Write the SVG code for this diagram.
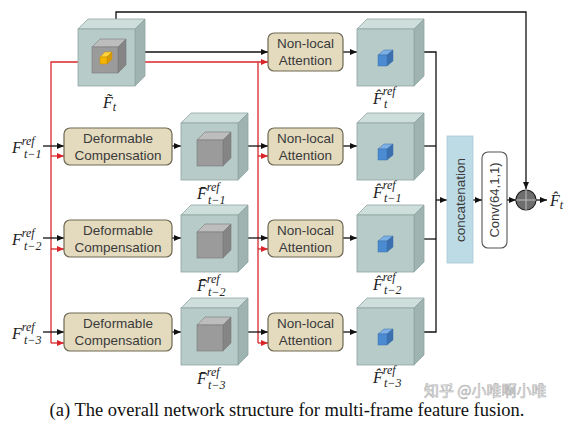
<svg xmlns="http://www.w3.org/2000/svg" width="578" height="423" viewBox="0 0 578 423">
<defs>
<style>
.ln{fill:none;stroke:#111;stroke-width:1.3}
.rd{fill:none;stroke:#d9262b;stroke-width:1.3}
.box{fill:#e4dbbf;stroke:#6e6853;stroke-width:1.2}
.bt{font-family:"Liberation Sans",Arial,sans-serif;font-size:13.5px;fill:#3a3a3a;text-anchor:middle}
.m{font-family:"Liberation Serif","Times New Roman",serif;font-style:italic;font-size:16px;fill:#222}
.s{font-size:12px}
.cf{fill:#b7ccc9;stroke:#8fa5a2;stroke-width:0.8}
.ct{fill:#cddedb;stroke:#8fa5a2;stroke-width:0.8}
.cr{fill:#9fb4b1;stroke:#8fa5a2;stroke-width:0.8}
.gf{fill:#9b9b9b;stroke:#7a7a7a;stroke-width:0.6}
.gt{fill:#bdbdbd;stroke:#7a7a7a;stroke-width:0.6}
.gr{fill:#858585;stroke:#7a7a7a;stroke-width:0.6}
</style>
<marker id="ab" markerWidth="8" markerHeight="6" refX="7" refY="3" orient="auto" markerUnits="userSpaceOnUse"><path d="M0,0 L7,3 L0,6 z" fill="#111"/></marker>
<marker id="ar" markerWidth="8" markerHeight="6" refX="7" refY="3" orient="auto" markerUnits="userSpaceOnUse"><path d="M0,0 L7,3 L0,6 z" fill="#d9262b"/></marker>
<g id="bigcube">
<polygon class="ct" points="0,0 10,-10 67,-10 57,0"/>
<polygon class="cr" points="57,0 67,-10 67,47 57,57"/>
<rect class="cf" x="0" y="0" width="57" height="57"/>
</g>
<g id="graycube">
<polygon class="gt" points="0,0 8,-8 34,-8 26,0"/>
<polygon class="gr" points="26,0 34,-8 34,18 26,26"/>
<rect class="gf" x="0" y="0" width="26" height="26"/>
</g>
<g id="bluecube">
<polygon points="0,0 6,-5 15,-5 9,0" fill="#7db1e6" stroke="#3d6fa8" stroke-width="0.5"/>
<polygon points="9,0 15,-5 15,6 9,11" fill="#3a6fb0" stroke="#3d6fa8" stroke-width="0.5"/>
<rect x="0" y="0" width="9" height="11" fill="#4a8bd2" stroke="#3d6fa8" stroke-width="0.5"/>
</g>
</defs>
<rect width="578" height="423" fill="#fff"/>

<g id="connectors">
<path class="ln" d="M116,19 V12 H526 V189" marker-end="url(#ab)"/>
<path class="ln" d="M145,52 H268" marker-end="url(#ab)"/>
<path class="rd" d="M51,343 V62 H268" marker-end="url(#ar)"/>
<path class="rd" d="M258,62 V343"/>
<path class="ln" d="M43,146 H64" marker-end="url(#ab)"/>
<path class="ln" d="M43,238 H64" marker-end="url(#ab)"/>
<path class="ln" d="M43,332 H64" marker-end="url(#ab)"/>
<path class="rd" d="M51,156 H64" marker-end="url(#ar)"/>
<path class="rd" d="M51,249 H64" marker-end="url(#ar)"/>
<path class="rd" d="M51,343 H64" marker-end="url(#ar)"/>
<path class="ln" d="M172,146 H181" marker-end="url(#ab)"/>
<path class="ln" d="M172,238 H181" marker-end="url(#ab)"/>
<path class="ln" d="M172,332 H181" marker-end="url(#ab)"/>
<path class="ln" d="M248,146 H268" marker-end="url(#ab)"/>
<path class="ln" d="M248,238 H268" marker-end="url(#ab)"/>
<path class="ln" d="M248,332 H268" marker-end="url(#ab)"/>
<path class="rd" d="M258,156 H268" marker-end="url(#ar)"/>
<path class="rd" d="M258,249 H268" marker-end="url(#ar)"/>
<path class="rd" d="M258,343 H268" marker-end="url(#ar)"/>
<path class="ln" d="M343,52 H357" marker-end="url(#ab)"/>
<path class="ln" d="M343,146 H357" marker-end="url(#ab)"/>
<path class="ln" d="M343,238 H357" marker-end="url(#ab)"/>
<path class="ln" d="M343,332 H357" marker-end="url(#ab)"/>
<path class="ln" d="M424,52 H436 V332 H424"/>
<path class="ln" d="M424,146 H436"/>
<path class="ln" d="M424,239 H436"/>
<path class="ln" d="M436,200 H447" marker-end="url(#ab)"/>
<path class="ln" d="M473,200 H482" marker-end="url(#ab)"/>
<path class="ln" d="M507,200 H516" marker-end="url(#ab)"/>
<path class="ln" d="M536,200 H547" marker-end="url(#ab)"/>
</g>

<g id="Ft">
<use href="#bigcube" x="78" y="29"/>
<use href="#graycube" x="92" y="47"/>
<polygon points="100,57 105,52 112,52 107,57" fill="#ffd23e" stroke="#c48d00" stroke-width="0.5"/>
<polygon points="107,57 112,52 112,59 107,64" fill="#d89a00" stroke="#c48d00" stroke-width="0.5"/>
<rect x="100" y="57" width="7" height="7" fill="#f2b400" stroke="#c48d00" stroke-width="0.5"/>
<text class="m" x="103" y="108">F̃<tspan class="s" dy="3">t</tspan></text>
</g>

<g id="in1"><text class="m" x="12" y="153">F<tspan class="s" dy="-8">ref</tspan><tspan class="s" x="24" dy="13">t−1</tspan></text></g>
<g id="in2"><text class="m" x="12" y="245">F<tspan class="s" dy="-8">ref</tspan><tspan class="s" x="24" dy="13">t−2</tspan></text></g>
<g id="in3"><text class="m" x="12" y="339">F<tspan class="s" dy="-8">ref</tspan><tspan class="s" x="24" dy="13">t−3</tspan></text></g>

<g id="dc1"><rect class="box" x="64" y="128" width="108" height="37" rx="6"/><text class="bt" x="118" y="142.5">Deformable</text><text class="bt" x="118" y="159.5">Compensation</text></g>
<g id="dc2"><rect class="box" x="64" y="220" width="108" height="37" rx="6"/><text class="bt" x="118" y="234.5">Deformable</text><text class="bt" x="118" y="251.5">Compensation</text></g>
<g id="dc3"><rect class="box" x="64" y="313" width="108" height="38" rx="6"/><text class="bt" x="118" y="328">Deformable</text><text class="bt" x="118" y="345">Compensation</text></g>

<g id="fb1"><use href="#bigcube" x="181" y="123"/><use href="#graycube" x="197" y="140"/>
<text class="m" x="197" y="199">F̄<tspan class="s" dy="-8">ref</tspan><tspan class="s" x="208" dy="13">t−1</tspan></text></g>
<g id="fb2"><use href="#bigcube" x="181" y="215"/><use href="#graycube" x="197" y="232"/>
<text class="m" x="197" y="291">F̄<tspan class="s" dy="-8">ref</tspan><tspan class="s" x="208" dy="13">t−2</tspan></text></g>
<g id="fb3"><use href="#bigcube" x="181" y="308"/><use href="#graycube" x="197" y="325"/>
<text class="m" x="197" y="384">F̄<tspan class="s" dy="-8">ref</tspan><tspan class="s" x="208" dy="13">t−3</tspan></text></g>

<g id="nl0"><rect class="box" x="268" y="33" width="75" height="38" rx="6"/><text class="bt" x="305.5" y="48">Non-local</text><text class="bt" x="305.5" y="65">Attention</text></g>
<g id="nl1"><rect class="box" x="268" y="128" width="75" height="37" rx="6"/><text class="bt" x="305.5" y="142.5">Non-local</text><text class="bt" x="305.5" y="159.5">Attention</text></g>
<g id="nl2"><rect class="box" x="268" y="220" width="75" height="37" rx="6"/><text class="bt" x="305.5" y="234.5">Non-local</text><text class="bt" x="305.5" y="251.5">Attention</text></g>
<g id="nl3"><rect class="box" x="268" y="313" width="75" height="38" rx="6"/><text class="bt" x="305.5" y="328">Non-local</text><text class="bt" x="305.5" y="345">Attention</text></g>

<g id="fh0"><use href="#bigcube" x="357" y="29"/><use href="#bluecube" x="378" y="55"/>
<text class="m" x="373" y="104">F̂<tspan class="s" dy="-9">ref</tspan><tspan class="s" x="384" dy="13">t</tspan></text></g>
<g id="fh1"><use href="#bigcube" x="357" y="123"/><use href="#bluecube" x="378" y="149"/>
<text class="m" x="373" y="198">F̂<tspan class="s" dy="-9">ref</tspan><tspan class="s" x="384" dy="13">t−1</tspan></text></g>
<g id="fh2"><use href="#bigcube" x="357" y="215"/><use href="#bluecube" x="378" y="241"/>
<text class="m" x="373" y="290">F̂<tspan class="s" dy="-9">ref</tspan><tspan class="s" x="384" dy="13">t−2</tspan></text></g>
<g id="fh3"><use href="#bigcube" x="357" y="308"/><use href="#bluecube" x="378" y="334"/>
<text class="m" x="373" y="383">F̂<tspan class="s" dy="-9">ref</tspan><tspan class="s" x="384" dy="13">t−3</tspan></text></g>

<g id="concat"><rect x="447" y="136" width="26" height="127" fill="#bcdbe5" stroke="#a9c9d4" stroke-width="0.8"/>
<text class="bt" transform="translate(465,200) rotate(-90)" x="0" y="0">concatenation</text></g>
<g id="conv"><rect x="482" y="152" width="25" height="96" rx="6" fill="#fff" stroke="#555" stroke-width="1.1"/>
<text class="bt" style="font-size:13px" transform="translate(499,200) rotate(-90)" x="0" y="0">Conv(64,1,1)</text></g>
<g id="sum"><circle cx="526" cy="200" r="10" fill="#6e6e6e" stroke="#222" stroke-width="1.2"/>
<path d="M516,200 H536 M526,190 V210" stroke="#bdbdbd" stroke-width="1"/></g>
<g id="out"><text class="m" x="550" y="206">F̂<tspan class="s" dy="3">t</tspan></text></g>

<text x="287" y="416" text-anchor="middle" font-family="'Liberation Serif','Times New Roman',serif" font-size="18.5" fill="#111">(a) The overall network structure for multi-frame feature fusion.</text>
<text x="424" y="396" font-family="'Noto Sans CJK SC',sans-serif" font-size="15" fill="#fff" stroke="#b5b5b5" stroke-width="0.7">知乎 @小唯啊小唯</text>
</svg>
